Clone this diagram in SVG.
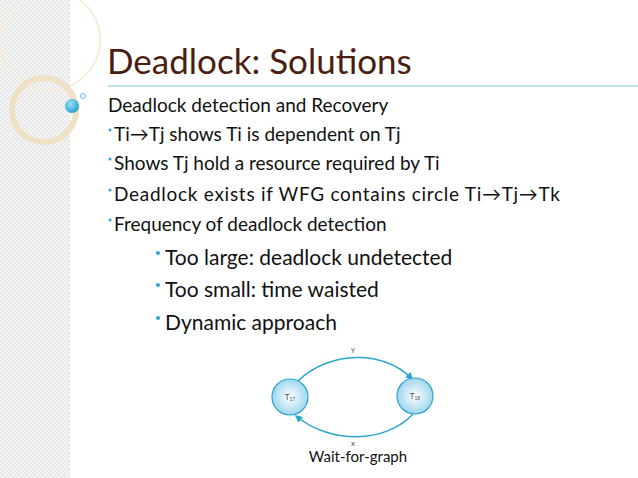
<svg xmlns="http://www.w3.org/2000/svg" width="638" height="478" viewBox="0 0 638 478">
<defs>
<pattern id="chk" width="4" height="4" patternUnits="userSpaceOnUse"><rect width="4" height="4" fill="#f4f4f4"/><rect width="2" height="2" fill="#e8e8e8"/><rect x="2" y="2" width="2" height="2" fill="#e8e8e8"/></pattern>
<radialGradient id="ball" cx="0.4" cy="0.35" r="0.7"><stop offset="0" stop-color="#9fe0f5"/><stop offset="1" stop-color="#1aa0d0"/></radialGradient>
<radialGradient id="node" cx="0.5" cy="0.5" r="0.5"><stop offset="0" stop-color="#ffffff"/><stop offset="1" stop-color="#9fd6ee"/></radialGradient>
<marker id="ah" viewBox="0 0 10 10" refX="8" refY="5" markerWidth="5" markerHeight="5" orient="auto"><path d="M0,0 L10,5 L0,10 z" fill="#2aa6cf"/></marker>
<style>
.t{font-family:Lato,"Open Sans",sans-serif;fill:#111;font-size:19px}
.s{font-family:Lato,"Open Sans",sans-serif;fill:#111;font-size:21px}
.b{fill:#2aa6cf}
.e{fill:none;stroke:#2aa6cf;stroke-width:1.5}
.l{font-family:Lato,sans-serif;font-size:8px;fill:#555}
</style>
</defs>
<rect width="638" height="478" fill="#fff"/>
<rect width="70" height="478" fill="url(#chk)"/>
<circle cx="50" cy="40" r="50" fill="none" stroke="#f5ecd8" stroke-width="2"/>
<circle cx="44" cy="110" r="32" fill="none" stroke="#efe2c4" stroke-width="6"/>
<circle cx="72" cy="106" r="7" fill="url(#ball)"/>
<circle cx="83" cy="96" r="2.5" fill="none" stroke="#5bbfdf" stroke-width="1"/>
<text x="107" y="74" style="font-family:Lato,'Open Sans',sans-serif;font-size:35px;fill:#4a1e10">Deadlock: Solutions</text>
<line x1="108" y1="86" x2="638" y2="86" stroke="#7cc4dc" stroke-width="1"/>
<text class="t" x="108" y="112">Deadlock detection and Recovery</text>
<circle class="b" cx="110" cy="130" r="1.5"/><text class="t" x="114" y="141">Ti→Tj shows Ti is dependent on Tj</text>
<circle class="b" cx="110" cy="159" r="1.5"/><text class="t" x="114" y="170">Shows Tj hold a resource required by Ti</text>
<circle class="b" cx="110" cy="190" r="1.5"/><text class="t" x="114" y="201" textLength="446">Deadlock exists if  WFG contains circle Ti→Tj→Tk</text>
<circle class="b" cx="110" cy="220" r="1.5"/><text class="t" x="114" y="231">Frequency of deadlock detection</text>
<circle class="b" cx="158" cy="253" r="2"/><text class="s" x="165" y="265">Too large: deadlock undetected</text>
<circle class="b" cx="158" cy="285" r="2"/><text class="s" x="165" y="297">Too small: time waisted</text>
<circle class="b" cx="158" cy="318" r="2"/><text class="s" x="165" y="330">Dynamic approach</text>
<g id="connectors">
<path class="e" d="M298,381 C330,350 385,350 412,379" marker-end="url(#ah)"/>
<path class="e" d="M413,414 C385,444 330,444 296,416" marker-end="url(#ah)"/>
<text class="l" x="353" y="352" text-anchor="middle">y</text>
<text class="l" x="353" y="446" text-anchor="middle">x</text>
</g>
<g id="T17"><circle cx="290" cy="397" r="18" fill="url(#node)" stroke="#2aa6cf" stroke-width="1.2"/><text x="290" y="400" class="l" text-anchor="middle">T<tspan font-size="5" dy="1">17</tspan></text></g>
<g id="T18"><circle cx="415" cy="396" r="18" fill="url(#node)" stroke="#2aa6cf" stroke-width="1.2"/><text x="415" y="399" class="l" text-anchor="middle">T<tspan font-size="5" dy="1">18</tspan></text></g>
<text x="358" y="462" style="font-family:Lato,sans-serif;font-size:15px;fill:#111" text-anchor="middle">Wait-for-graph</text>
</svg>
